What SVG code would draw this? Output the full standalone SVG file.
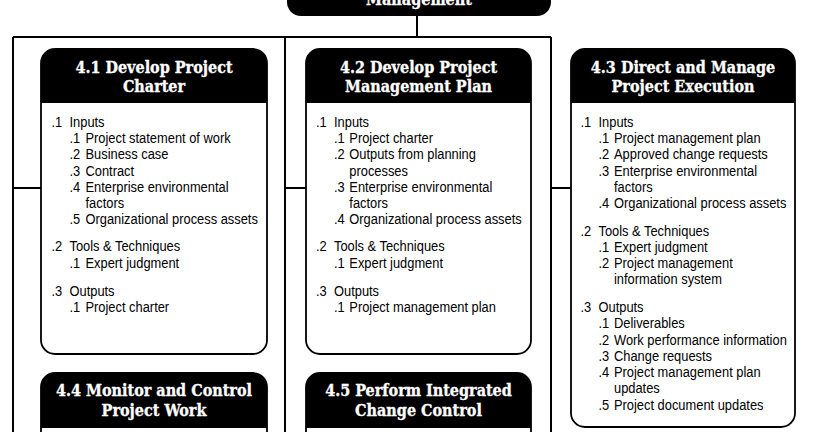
<svg xmlns="http://www.w3.org/2000/svg" width="823" height="432" viewBox="0 0 823 432">
<style>
.box{fill:#fff;stroke:#000;stroke-width:1.8}
.hdr{fill:#000}
.ht{font-family:"DejaVu Serif",serif;font-weight:bold;font-size:16px;font-stretch:condensed;fill:#fff;stroke:#fff;stroke-width:0.3;text-anchor:middle}
.bt{font-family:"Liberation Sans",Arial,sans-serif;font-size:14px;fill:#000}
.ln{stroke:#000;stroke-width:2;fill:none}
</style>
<rect width="823" height="432" fill="#fff"/>
<g id="connectors">
<path class="ln" d="M417,16 V37 M13,37 H551 M13,37 V432 M285,37 V432 M551,37 V432 M13,188 H41 M285,188 H306 M551,188 H571"/>
</g>
<g id="top">
<path class="hdr" d="M287,-10 H551 V2 A14,14 0 0 1 537,16 H301 A14,14 0 0 1 287,2 Z"/>
<text class="ht" x="419" y="5">Management</text>
</g>
<g id="n41">
<path class="box" d="M41,63 A14,14 0 0 1 55,49 H253 A14,14 0 0 1 267,63 V340 A14,14 0 0 1 253,354 H55 A14,14 0 0 1 41,340 Z"/>
<path class="hdr" d="M41,63 A14,14 0 0 1 55,49 H253 A14,14 0 0 1 267,63 V103 H41 Z"/>
<text class="ht" x="154" y="72.5">4.1 Develop Project</text>
<text class="ht" x="154" y="92">Charter</text>
<g class="bt" transform="translate(51.5,0) scale(0.92,1)">
<text x="0" y="127">.1</text><text x="19.57" y="127">Inputs</text>
<text x="19.57" y="143">.1</text><text x="36.96" y="143">Project statement of work</text>
<text x="19.57" y="159.5">.2</text><text x="36.96" y="159.5">Business case</text>
<text x="19.57" y="176">.3</text><text x="36.96" y="176">Contract</text>
<text x="19.57" y="192">.4</text><text x="36.96" y="192">Enterprise environmental</text>
<text x="36.96" y="208">factors</text>
<text x="19.57" y="224">.5</text><text x="36.96" y="224">Organizational process assets</text>
<text x="0" y="251">.2</text><text x="19.57" y="251">Tools &amp; Techniques</text>
<text x="19.57" y="268">.1</text><text x="36.96" y="268">Expert judgment</text>
<text x="0" y="296">.3</text><text x="19.57" y="296">Outputs</text>
<text x="19.57" y="312">.1</text><text x="36.96" y="312">Project charter</text>
</g>
</g>
<g id="n42">
<path class="box" d="M306,63 A14,14 0 0 1 320,49 H517 A14,14 0 0 1 531,63 V340 A14,14 0 0 1 517,354 H320 A14,14 0 0 1 306,340 Z"/>
<path class="hdr" d="M306,63 A14,14 0 0 1 320,49 H517 A14,14 0 0 1 531,63 V103 H306 Z"/>
<text class="ht" x="418.5" y="72.5">4.2 Develop Project</text>
<text class="ht" x="418.5" y="92">Management Plan</text>
<g class="bt" transform="translate(316,0) scale(0.92,1)">
<text x="0" y="127">.1</text><text x="19.57" y="127">Inputs</text>
<text x="19.57" y="143">.1</text><text x="36.2" y="143">Project charter</text>
<text x="19.57" y="159.5">.2</text><text x="36.2" y="159.5">Outputs from planning</text>
<text x="36.2" y="176">processes</text>
<text x="19.57" y="192">.3</text><text x="36.2" y="192">Enterprise environmental</text>
<text x="36.2" y="208">factors</text>
<text x="19.57" y="224">.4</text><text x="36.2" y="224">Organizational process assets</text>
<text x="0" y="251">.2</text><text x="19.57" y="251">Tools &amp; Techniques</text>
<text x="19.57" y="268">.1</text><text x="36.2" y="268">Expert judgment</text>
<text x="0" y="296">.3</text><text x="19.57" y="296">Outputs</text>
<text x="19.57" y="312">.1</text><text x="36.2" y="312">Project management plan</text>
</g>
</g>
<g id="n43">
<path class="box" d="M571,63 A14,14 0 0 1 585,49 H781 A14,14 0 0 1 795,63 V413 A14,14 0 0 1 781,427 H585 A14,14 0 0 1 571,413 Z"/>
<path class="hdr" d="M571,63 A14,14 0 0 1 585,49 H781 A14,14 0 0 1 795,63 V103 H571 Z"/>
<text class="ht" x="683" y="72.5">4.3 Direct and Manage</text>
<text class="ht" x="683" y="92">Project Execution</text>
<g class="bt" transform="translate(580.5,0) scale(0.92,1)">
<text x="0" y="127">.1</text><text x="19.57" y="127">Inputs</text>
<text x="19.57" y="143">.1</text><text x="36.4" y="143">Project management plan</text>
<text x="19.57" y="159">.2</text><text x="36.4" y="159">Approved change requests</text>
<text x="19.57" y="176">.3</text><text x="36.4" y="176">Enterprise environmental</text>
<text x="36.4" y="192">factors</text>
<text x="19.57" y="208">.4</text><text x="36.4" y="208">Organizational process assets</text>
<text x="0" y="236">.2</text><text x="19.57" y="236">Tools &amp; Techniques</text>
<text x="19.57" y="252">.1</text><text x="36.4" y="252">Expert judgment</text>
<text x="19.57" y="268">.2</text><text x="36.4" y="268">Project management</text>
<text x="36.4" y="284">information system</text>
<text x="0" y="312">.3</text><text x="19.57" y="312">Outputs</text>
<text x="19.57" y="328">.1</text><text x="36.4" y="328">Deliverables</text>
<text x="19.57" y="345">.2</text><text x="36.4" y="345">Work performance information</text>
<text x="19.57" y="361">.3</text><text x="36.4" y="361">Change requests</text>
<text x="19.57" y="377">.4</text><text x="36.4" y="377">Project management plan</text>
<text x="36.4" y="393">updates</text>
<text x="19.57" y="410">.5</text><text x="36.4" y="410">Project document updates</text>
</g>
</g>
<g id="n44">
<path class="box" d="M41,387 A14,14 0 0 1 55,373 H253 A14,14 0 0 1 267,387 V450 H41 Z"/>
<path class="hdr" d="M41,387 A14,14 0 0 1 55,373 H253 A14,14 0 0 1 267,387 V428 H41 Z"/>
<text class="ht" x="154" y="396">4.4 Monitor and Control</text>
<text class="ht" x="154" y="416">Project Work</text>
</g>
<g id="n45">
<path class="box" d="M306,387 A14,14 0 0 1 320,373 H517 A14,14 0 0 1 531,387 V450 H306 Z"/>
<path class="hdr" d="M306,387 A14,14 0 0 1 320,373 H517 A14,14 0 0 1 531,387 V428 H306 Z"/>
<text class="ht" x="418.5" y="396">4.5 Perform Integrated</text>
<text class="ht" x="418.5" y="416">Change Control</text>
</g>
</svg>
